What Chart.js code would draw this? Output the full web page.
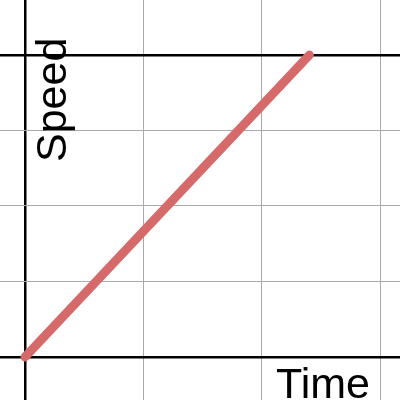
<!DOCTYPE html>
<html><head><script src="https://cdn.jsdelivr.net/npm/chart.js@4"></script>
<style>html,body{margin:0;padding:0;background:#fff}#w{width:400px;height:400px}</style></head>
<body><div id="w"><canvas id="c"></canvas></div>
<script>
const timeVals=[0,2.4];
const speedVals=[0,4];
const xLabel="Time";
const yLabel="Speed";
const refLine=4;
const labels={id:'lbl',afterDraw(ch){const c=ch.ctx;c.save();c.fillStyle='#000';c.font='43px Arial, "Liberation Sans"';
c.textBaseline='alphabetic';c.textAlign='right';c.fillText(xLabel,370,398);
c.translate(66,162);c.rotate(-Math.PI/2);c.textAlign='left';c.fillText(yLabel,0,0);c.restore();}};
const gc=(v,blk)=>blk.includes(v)?'#000':'#aaa';
const gw=(v,blk)=>blk.includes(v)?2.5:1;
new Chart(document.getElementById('c'),{type:'scatter',
data:{datasets:[{data:timeVals.map((t,i)=>({x:t,y:speedVals[i]})),showLine:true,borderColor:'#d66a6a',borderWidth:9,borderCapStyle:'round',pointRadius:0}]},
options:{responsive:true,maintainAspectRatio:false,animation:false,layout:{padding:0},
plugins:{legend:{display:false},tooltip:{enabled:false}},
scales:{x:{type:'linear',min:-0.211,max:3.165,afterBuildTicks:a=>{a.ticks=[0,1,2,3].map(v=>({value:v}))},
ticks:{display:false},border:{display:false},grid:{drawTicks:false,color:x=>gc(x.tick.value,[0]),lineWidth:x=>gw(x.tick.value,[0])}},
y:{type:'linear',min:-0.57,max:4.728,afterBuildTicks:a=>{a.ticks=[0,1,2,3,4].map(v=>({value:v}))},
ticks:{display:false},border:{display:false},grid:{drawTicks:false,color:x=>gc(x.tick.value,[0,refLine]),lineWidth:x=>gw(x.tick.value,[0,refLine])}}}},
plugins:[labels]});
</script></body></html>
